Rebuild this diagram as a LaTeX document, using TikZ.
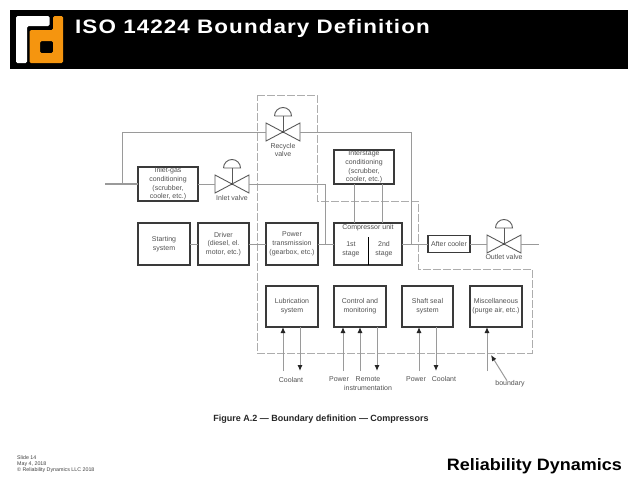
\documentclass[tikz,border=0pt]{standalone}
\usepackage{fontspec}
\setmainfont{Liberation Sans}
\usetikzlibrary{arrows.meta}
\definecolor{boxline}{HTML}{3A3A3A}
\definecolor{wire}{HTML}{9A9A9A}
\definecolor{txt}{HTML}{505050}
\definecolor{logoorange}{HTML}{F5950F}
\tikzset{
  px/.style={x=1pt,y=-1pt},
  box/.style={draw=boxline,line width=1.3pt,inner sep=0pt,outer sep=0pt,align=center,text=txt,
    font=\fontsize{7}{8.7}\selectfont},
  lbl/.style={inner sep=0pt,outer sep=0pt,align=center,text=txt,font=\fontsize{7}{8.7}\selectfont},
  wireline/.style={draw=wire,line width=1pt},
  flow/.style={wireline,-{Latex[length=6pt,width=5pt,color=black!85]}},
  boundaryline/.style={draw=black!32,line width=1pt,dash pattern=on 8pt off 2pt},
  valve/.pic={
    \draw[draw=black!65,line width=0.9pt] (-17,-9)--(17,9)--(17,-9)--(-17,9)--cycle;
    \fill[black!75] (0,0) circle (1.1pt);
    \draw[draw=black!65,line width=0.9pt] (0,0)--(0,-16);
    \draw[draw=black!65,line width=0.9pt] (-8.5,-16)--(8.5,-16) arc (0:180:8.5pt);
    \coordinate (-l) at (-17,0);
    \coordinate (-r) at (17,0);
  }
}
\begin{document}
\begin{tikzpicture}[px]
\useasboundingbox (0,0) rectangle (638,479);
% header
\fill[black] (10,10) rectangle (628,69);
\fill[white,rounded corners=1.5pt] (16,16)--(49.5,16)--(49.5,26)--(27,26)--(27,63)--(16,63)--cycle;
\fill[logoorange,rounded corners=1.5pt,even odd rule] (29.5,30)--(53,30)--(53,16)--(63,16)--(63,63)--(29.5,63)--cycle (40,41) rectangle (53,53);
\node[anchor=west,inner sep=0pt,text=white,font=\fontsize{19.5}{22}\bfseries\selectfont\addfontfeature{FakeStretch=1.15,LetterSpace=5.5}] (title) at (75,28) {ISO 14224 Boundary Definition};
% boundary
\draw[boundaryline] (257,95)--(317,95)--(317,201)--(418,201)--(418,269)--(532,269)--(532,353)--(257,353)--cycle;
% boxes
\node[box,minimum width=60pt,minimum height=34pt] (inlet) at (168,184) {Inlet-gas\\conditioning\\(scrubber,\\cooler, etc.)};
\node[box,minimum width=52pt,minimum height=42pt] (start) at (164,244) {Starting\\system};
\node[box,minimum width=51pt,minimum height=42pt] (driver) at (223.5,244) {Driver\\(diesel, el.\\motor, etc.)};
\node[box,minimum width=52pt,minimum height=42pt] (power) at (292,244) {Power\\transmission\\(gearbox, etc.)};
\node[box,minimum width=60pt,minimum height=34pt] (inter) at (364,167) {Interstage\\conditioning\\(scrubber,\\cooler, etc.)};
\node[box,minimum width=68pt,minimum height=42pt] (comp) at (368,244) {};
\node[box,minimum width=42pt,minimum height=17pt] (after) at (449,244) {After cooler};
\node[box,minimum width=52pt,minimum height=41pt] (lube) at (292,306.5) {Lubrication\\system};
\node[box,minimum width=52pt,minimum height=41pt] (ctrl) at (360,306.5) {Control and\\monitoring};
\node[box,minimum width=51pt,minimum height=41pt] (seal) at (427.5,306.5) {Shaft seal\\system};
\node[box,minimum width=52pt,minimum height=41pt] (misc) at (496,306.5) {Miscellaneous\\(purge air, etc.)};
\node[lbl] (comphead) at (368,228) {Compressor unit};
\node[lbl] (st1) at (351,249.5) {1st\\stage};
\node[lbl] (st2) at (384,249.5) {2nd\\stage};
\draw[draw=black,line width=0.9pt] (368,237)--(comp.south -| 368,0);
% valves
\pic (iv) at (232,184) {valve};
\pic (rv) at (283,132) {valve};
\pic (ov) at (504,244) {valve};
\node[lbl] (ivl) at (232,198) {Inlet valve};
\node[lbl] (rvl) at (283,150) {Recycle\\valve};
\node[lbl] (ovl) at (504,257) {Outlet valve};
% free ends
\coordinate (feed) at (105,184);
\coordinate (tap) at (122,184);
\coordinate (ret) at (411,244);
\coordinate (mix) at (325,244);
\coordinate (outl) at (539,244);
% process lines
\draw[wireline,line width=1.2pt] (feed)--(inlet.west);
\draw[wireline] (tap)|-(rv-l);
\draw[wireline] (rv-r)-|(ret);
\draw[wireline] (inlet.east)--(iv-l);
\draw[wireline] (iv-r)-|(mix);
\draw[wireline] (start.east)--(driver.west);
\draw[wireline] (driver.east)--(power.west);
\draw[wireline] (power.east)--(comp.west);
\draw[wireline] (comp.east)--(after.west);
\draw[wireline] (after.east)--(ov-l);
\draw[wireline] (ov-r)--(outl);
\draw[wireline] (inter.south -| 354,0)--(comp.north -| 354,0);
\draw[wireline] (inter.south -| 382,0)--(comp.north -| 382,0);
% utilities
\foreach \n/\x in {a/283,b/300,c/343,d/360,e/377,f/419,g/436,h/487}{
  \coordinate (t\n) at (\x,371);
}
\draw[flow] (ta)--(lube.south -| ta);
\draw[flow] (lube.south -| tb)--(tb);
\draw[flow] (tc)--(ctrl.south -| tc);
\draw[flow] (td)--(ctrl.south -| td);
\draw[flow] (ctrl.south -| te)--(te);
\draw[flow] (tf)--(seal.south -| tf);
\draw[flow] (seal.south -| tg)--(tg);
\draw[flow] (th)--(misc.south -| th);
\node[lbl] (cool1) at (291,380) {Coolant};
\node[lbl] (pow1) at (339,379) {Power};
\node[lbl] (remote) at (368,383.5) {Remote\\instrumentation};
\node[lbl] (pow2) at (416,379) {Power};
\node[lbl] (cool2) at (444,379) {Coolant};
\node[lbl] (bnd) at (510,384) {boundary};
\coordinate (bndtip) at (491,355);
\draw[flow] (bnd.north -| 507,0)--(bndtip);
% caption
\node[inner sep=0pt,text=black!85,font=\fontsize{9}{11}\bfseries\selectfont] (cap) at (321,419) {Figure A.2 — Boundary definition — Compressors};
% footer
\node[anchor=west,inner sep=0pt,text=black!75,align=left,font=\fontsize{5.3}{5.9}\selectfont] (foot) at (17,464) {Slide 14\\May 4, 2018\\© Reliability Dynamics LLC 2018};
\node[anchor=east,inner sep=0pt,text=black,font=\fontsize{16.5}{18}\bfseries\selectfont\addfontfeature{FakeStretch=1.09}] (brand) at (622,466) {Reliability Dynamics};
\end{tikzpicture}
\end{document}
